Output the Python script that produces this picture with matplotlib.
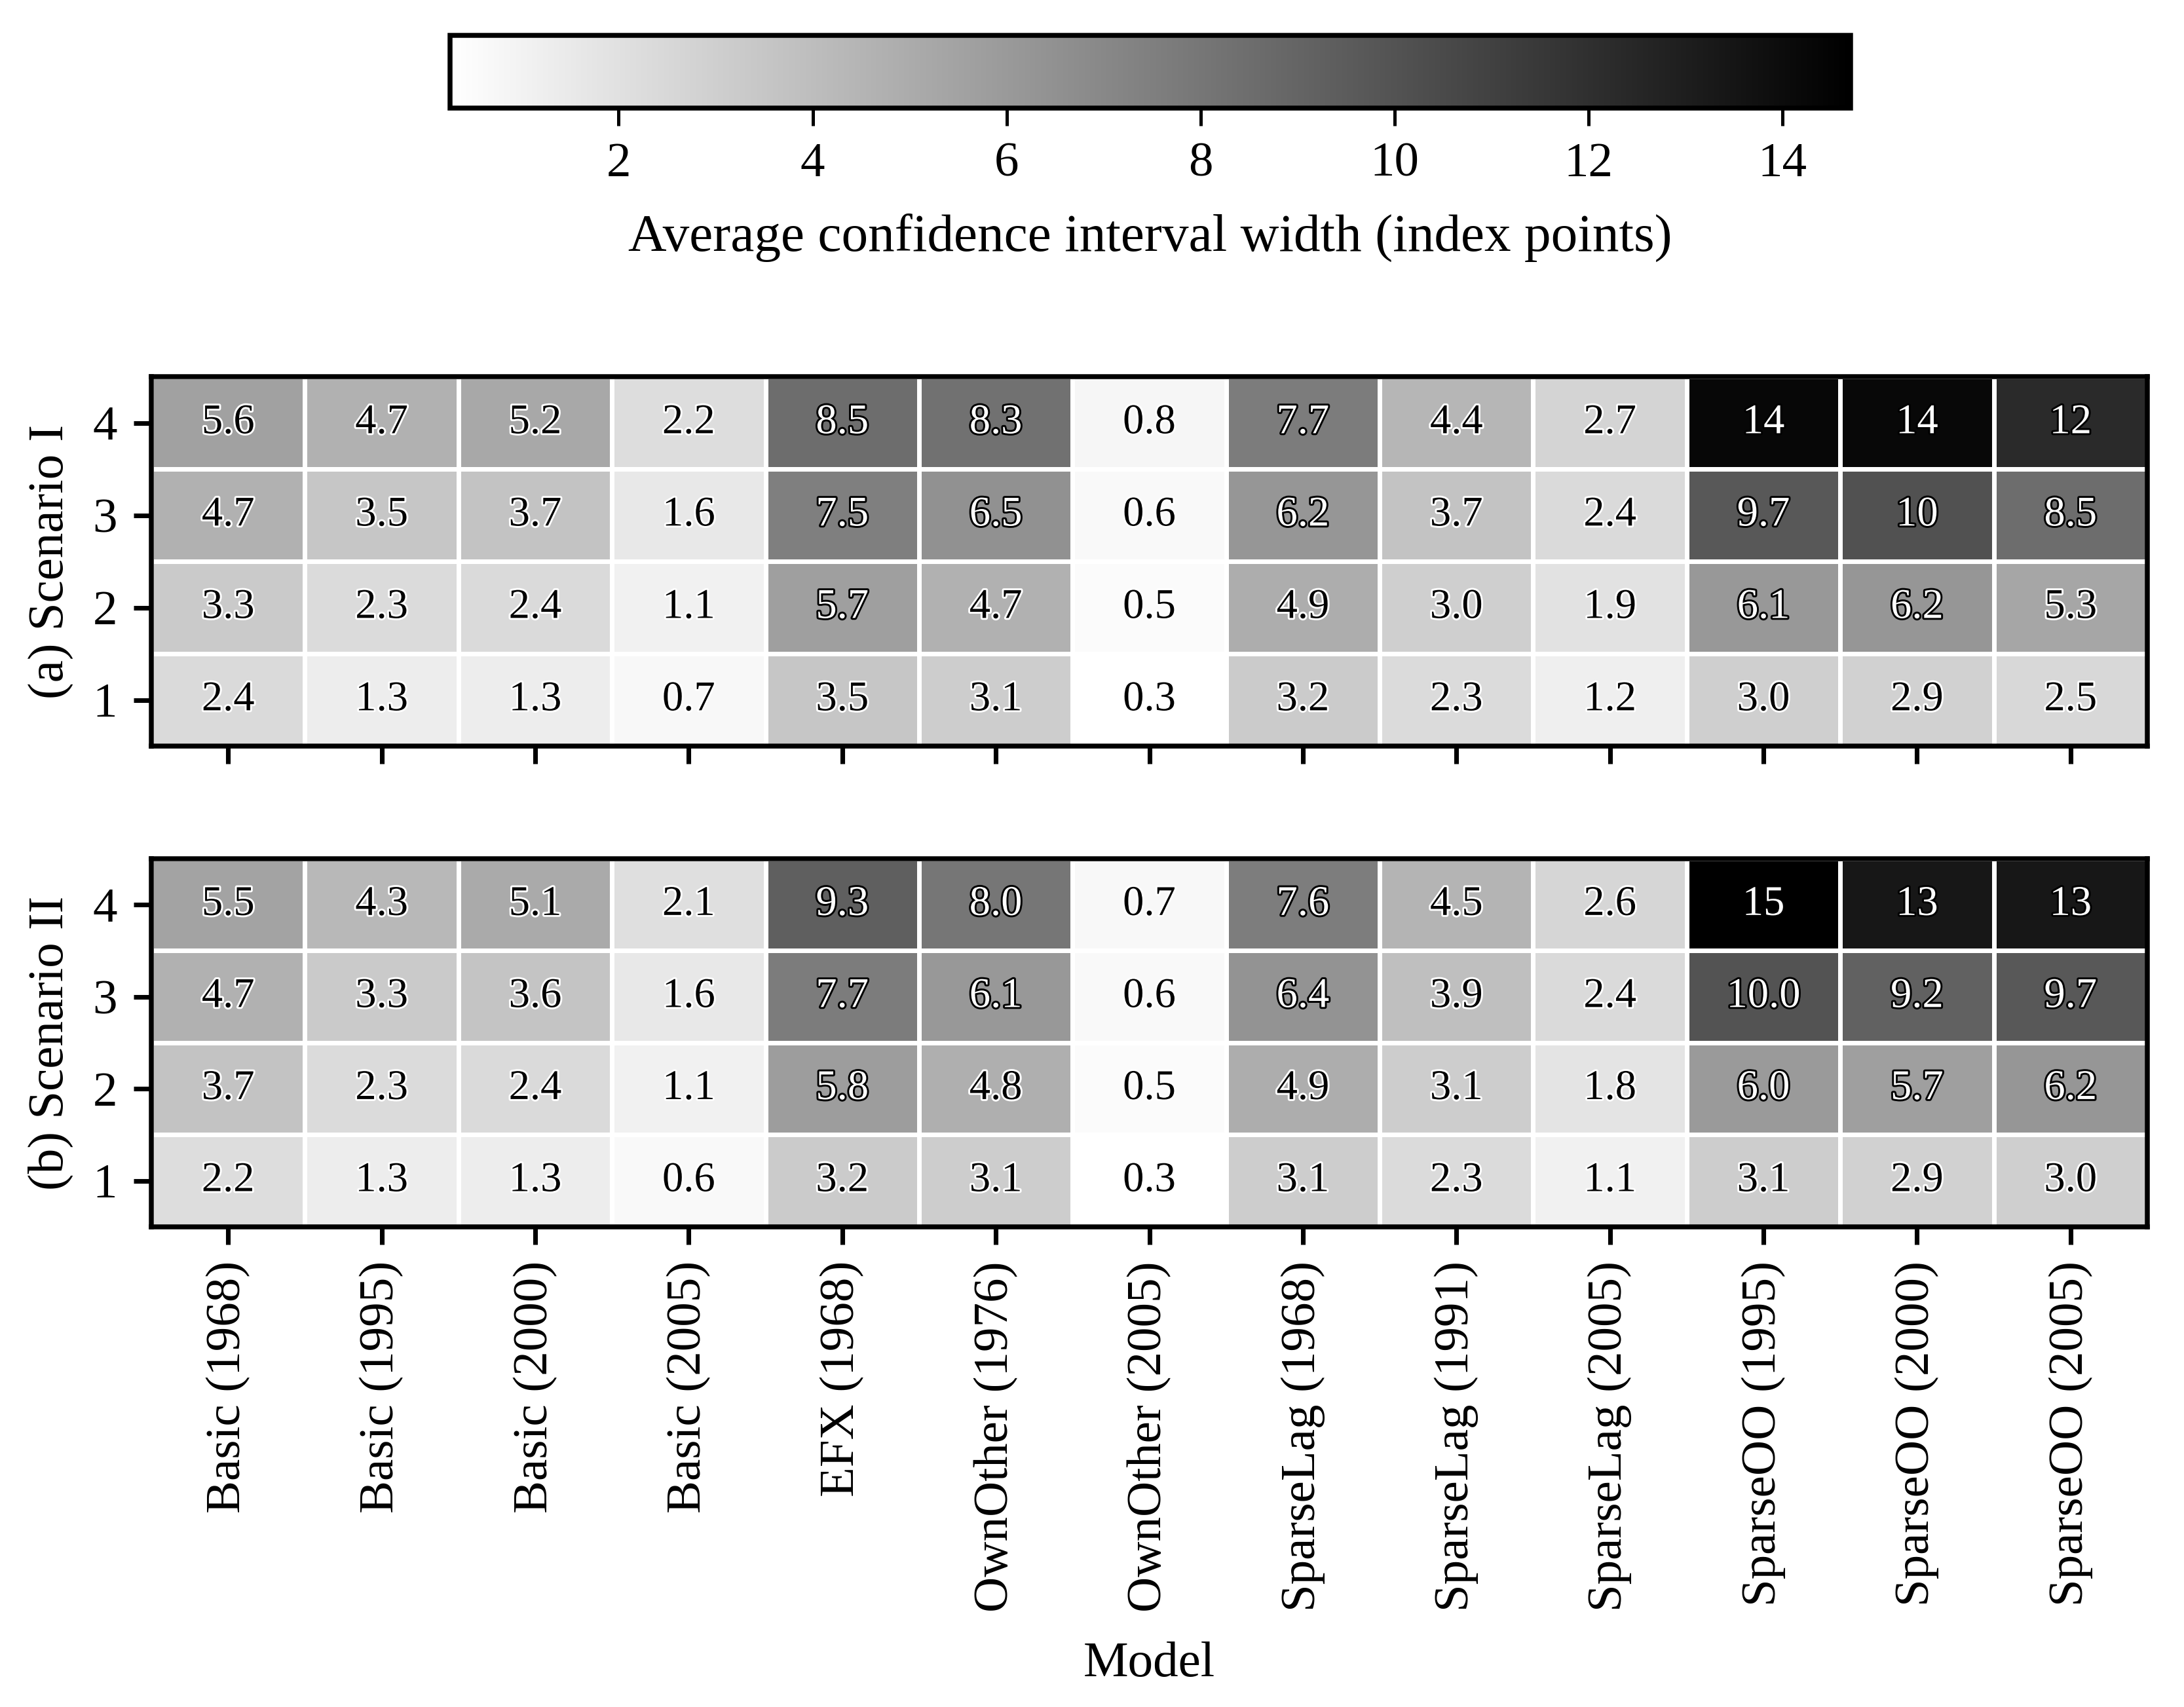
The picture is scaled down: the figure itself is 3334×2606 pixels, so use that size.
import numpy as np
import matplotlib.pyplot as plt
import matplotlib.patheffects as pe

plt.rcParams['font.family'] = ['Liberation Serif', 'DejaVu Serif']

# Data
models = ["Basic (1968)", "Basic (1995)", "Basic (2000)", "Basic (2005)",
          "EFX (1968)", "OwnOther (1976)", "OwnOther (2005)",
          "SparseLag (1968)", "SparseLag (1991)", "SparseLag (2005)",
          "SparseOO (1995)", "SparseOO (2000)", "SparseOO (2005)"]
horizons = [1, 2, 3, 4]
scenario_labels = ["(a) Scenario I", "(b) Scenario II"]

# rows = horizon 1..4
scen1 = np.array([
    [2.4, 1.3, 1.3, 0.7, 3.5, 3.1, 0.26, 3.2, 2.3, 1.2, 3.0, 2.9, 2.5],
    [3.3, 2.3, 2.4, 1.1, 5.7, 4.7, 0.5, 4.9, 3.0, 1.9, 6.1, 6.2, 5.3],
    [4.7, 3.5, 3.7, 1.6, 7.5, 6.5, 0.6, 6.2, 3.7, 2.4, 9.7, 10.1, 8.5],
    [5.6, 4.7, 5.2, 2.2, 8.5, 8.3, 0.8, 7.7, 4.4, 2.7, 14.3, 14.2, 12.3],
])
scen2 = np.array([
    [2.2, 1.3, 1.3, 0.6, 3.2, 3.1, 0.27, 3.1, 2.3, 1.1, 3.1, 2.9, 3.0],
    [3.7, 2.3, 2.4, 1.1, 5.8, 4.8, 0.5, 4.9, 3.1, 1.8, 6.0, 5.7, 6.2],
    [4.7, 3.3, 3.6, 1.6, 7.7, 6.1, 0.6, 6.4, 3.9, 2.4, 9.97, 9.2, 9.7],
    [5.5, 4.3, 5.1, 2.1, 9.3, 8.0, 0.7, 7.6, 4.5, 2.6, 14.7, 13.4, 13.4],
])
scenarios = [scen1, scen2]

vmin = min(s.min() for s in scenarios)
vmax = max(s.max() for s in scenarios)
white_text_from = 5.65


def fmt(v):
    return f"{v:.1f}" if v < 10 else f"{v:.0f}"


fig = plt.figure(figsize=(3334 / 300, 2606 / 300), dpi=300)
ax_pos = [[0.0693, 0.5629, 0.9139, 0.2164],
          [0.0693, 0.2813, 0.9139, 0.2157]]
cax = fig.add_axes([0.206, 0.9367, 0.6413, 0.0426])

for k, (data, pos) in enumerate(zip(scenarios, ax_pos)):
    ax = fig.add_axes(pos)
    xe = np.arange(len(models) + 1)
    ye = np.arange(len(horizons) + 1)
    mesh = ax.pcolormesh(xe, ye, data, cmap='gray_r', vmin=vmin, vmax=vmax,
                         edgecolor='white', linewidth=1.6)
    for i in range(data.shape[0]):
        for j in range(data.shape[1]):
            v = data[i, j]
            if v >= white_text_from:
                c, sc = 'white', 'black'
            else:
                c, sc = 'black', 'white'
            ax.text(j + 0.5, i + 0.5, fmt(v), ha='center', va='center',
                    fontsize=15.5, color=c,
                    path_effects=[pe.withStroke(linewidth=1.4, foreground=sc)])
    ax.set_xlim(0, len(models))
    ax.set_ylim(0, len(horizons))
    ax.set_yticks(np.arange(len(horizons)) + 0.5)
    ax.set_yticklabels(horizons, fontsize=18)
    ax.set_xticks(np.arange(len(models)) + 0.5)
    if k == 1:
        ax.set_xticklabels(models, rotation=90, fontsize=18)
        ax.set_xlabel("Model", fontsize=18.5, labelpad=11)
    else:
        ax.set_xticklabels([])
    ax.set_ylabel(scenario_labels[k], fontsize=18.5, labelpad=7)
    ax.tick_params(width=1.7, length=6.5, pad=6)
    for s in ax.spines.values():
        s.set_linewidth(1.8)

cb = fig.colorbar(mesh, cax=cax, orientation='horizontal')
cb.set_ticks([2, 4, 6, 8, 10, 12, 14])
cb.ax.tick_params(labelsize=18, width=1.2, length=6.5, pad=6)
cb.outline.set_linewidth(1.8)
cb.set_label("Average confidence interval width (index points)", fontsize=19.5,
             labelpad=10)

fig.savefig("out.png", dpi=300)
